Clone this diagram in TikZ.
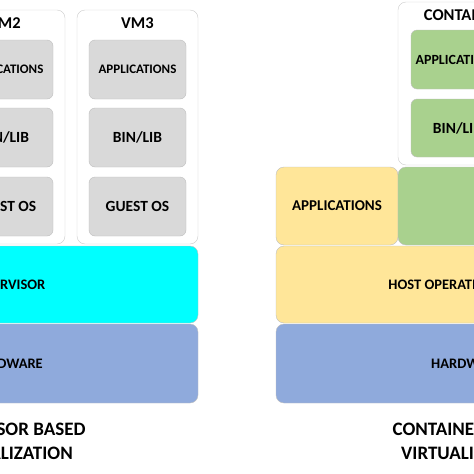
\documentclass[tikz,border=0pt]{standalone}
\usepackage{fontspec}
\setmainfont{Carlito}
\usetikzlibrary{positioning}
\definecolor{boxgray}{HTML}{D9D9D9}
\definecolor{hwblue}{HTML}{8FAADC}
\definecolor{osyellow}{HTML}{FFE699}
\definecolor{ctgreen}{HTML}{A9D18E}
\definecolor{hypcyan}{HTML}{00FFFF}
\tikzset{
  frame/.style={draw=gray!40, fill=white, rounded corners=8pt, inner sep=0pt},
  layer/.style={draw=gray!50, rounded corners=8pt, inner sep=0pt,
    font=\bfseries\fontsize{14.5}{17}\selectfont},
  part/.style={layer, rounded corners=6pt, minimum width=97pt, minimum height=59pt},
  tag/.style={font=\bfseries\fontsize{16.5}{19}\selectfont},
  caption/.style={align=center, font=\bfseries\fontsize{19}{24}\selectfont}
}
\begin{document}
\begin{tikzpicture}[x=1pt,y=-1pt]
  \useasboundingbox (0,0) rectangle (474,474);
  \clip (0,0) rectangle (474,474);
% Hypervisor side
  \node[frame, minimum width=121pt, minimum height=234pt] (vmtwo) at (4.5,127) {};
  \node[frame, minimum width=121pt, minimum height=234pt] (vmthree) at (137.5,127) {};
  \node[tag] (vmtwolbl) at (4.5,23) {VM2};
  \node[tag] (vmthreelbl) at (137.5,23) {VM3};
  \node[part, fill=boxgray, font=\bfseries\fontsize{13}{15}\selectfont] (apptwo) at (4.5,69.5) {APPLICATIONS};
  \node[part, fill=boxgray, font=\bfseries\fontsize{15.5}{17}\selectfont] (bintwo) at (4.5,137.5) {BIN/LIB};
  \node[part, fill=boxgray, font=\bfseries\fontsize{15.5}{17}\selectfont] (ostwo) at (4.5,206.5) {GUEST OS};
  \node[part, fill=boxgray, font=\bfseries\fontsize{13}{15}\selectfont] (appthree) at (137.5,69.5) {APPLICATIONS};
  \node[part, fill=boxgray, font=\bfseries\fontsize{15.5}{17}\selectfont] (binthree) at (137.5,137.5) {BIN/LIB};
  \node[part, fill=boxgray, font=\bfseries\fontsize{15.5}{17}\selectfont] (osthree) at (137.5,206.5) {GUEST OS};
  \node[layer, fill=hypcyan, minimum width=382pt, minimum height=77pt] (hyper) at (7,284.5) {HYPERVISOR};
  \node[layer, fill=hwblue, minimum width=382pt, minimum height=79pt] (hwleft) at (7,363.5) {HARDWARE};
  \node[caption] (capleft) at (7,441) {HYPERVISOR BASED\\VIRTUALIZATION};
% Container side
  \node[frame, minimum width=119pt, minimum height=163pt] (ctone) at (457.5,83.5) {};
  \node[tag] (ctonelbl) at (470,15) {CONTAINER 1};
  \node[part, fill=ctgreen, minimum width=93pt, minimum height=59pt, font=\bfseries\fontsize{14}{16}\selectfont] (appct) at (457.5,59.5) {APPLICATIONS};
  \node[part, fill=ctgreen, minimum width=93pt, minimum height=58pt, font=\bfseries\fontsize{15.5}{17}\selectfont] (binct) at (457.5,128) {BIN/LIB};
  \node[layer, fill=osyellow, minimum width=122pt, minimum height=78pt, font=\bfseries\fontsize{15}{17}\selectfont] (apphost) at (337,206) {APPLICATIONS};
  \node[layer, fill=ctgreen, minimum width=260pt, minimum height=78pt] (engine) at (528,206) {};
  \node[layer, fill=osyellow, minimum width=382pt, minimum height=77pt] (hostos) at (467,284.5) {HOST OPERATING SYSTEM};
  \node[layer, fill=hwblue, minimum width=382pt, minimum height=79pt] (hwright) at (467,363.5) {HARDWARE};
  \node[caption] (capright) at (467,441) {CONTAINER BASED\\VIRTUALIZATION};
\end{tikzpicture}
\end{document}
